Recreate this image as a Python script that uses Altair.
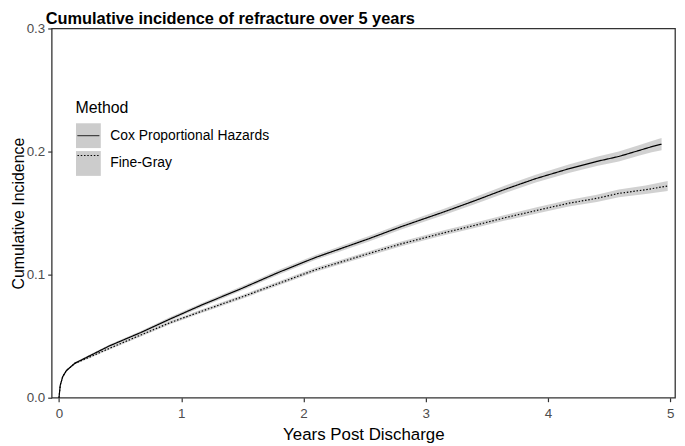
import altair as alt
import pandas as pd

# ---- data ----
methods = ["Cox Proportional Hazards", "Fine-Gray"]

cox_x = [0.0, 0.01, 0.03, 0.06, 0.13, 0.25, 0.41, 0.67, 0.91, 1.16, 1.5, 1.8, 2.1,
         2.53, 2.8, 3.15, 3.4, 3.64, 3.9, 4.17, 4.4, 4.58, 4.75, 4.85, 4.93]
cox_y = [0.0, 0.010, 0.017, 0.022, 0.028, 0.034, 0.042, 0.053, 0.064, 0.075, 0.089, 0.102, 0.114,
         0.129, 0.139, 0.151, 0.160, 0.169, 0.178, 0.186, 0.192, 0.196, 0.201, 0.204, 0.206]
cox_hw = [0.0, 0.0004, 0.0006, 0.0008, 0.0009, 0.001, 0.0011, 0.0013, 0.0015, 0.0016, 0.0017, 0.0019, 0.002,
          0.0022, 0.0024, 0.0026, 0.0028, 0.003, 0.0032, 0.0035, 0.0037, 0.004, 0.0043, 0.0046, 0.005]

fg_x = [0.0, 0.01, 0.03, 0.06, 0.13, 0.25, 0.41, 0.67, 0.91, 1.16, 1.5, 1.8, 2.1,
        2.53, 2.8, 3.15, 3.4, 3.64, 3.9, 4.17, 4.4, 4.58, 4.8, 4.98]
fg_y = [0.0, 0.010, 0.017, 0.022, 0.028, 0.033, 0.040, 0.051, 0.061, 0.070, 0.082, 0.093, 0.104,
        0.117, 0.125, 0.134, 0.140, 0.146, 0.152, 0.158, 0.162, 0.166, 0.169, 0.172]
fg_hw = [0.0, 0.0004, 0.0006, 0.0008, 0.0009, 0.001, 0.0011, 0.0012, 0.0013, 0.0014, 0.0015, 0.0016, 0.0017,
         0.0018, 0.0019, 0.002, 0.0021, 0.0023, 0.0025, 0.0027, 0.003, 0.0032, 0.0035, 0.004]

x_ticks = [0, 1, 2, 3, 4, 5]
y_ticks = [0.0, 0.1, 0.2, 0.3]

rows = []
for m, xs, ys, hws in [(methods[0], cox_x, cox_y, cox_hw), (methods[1], fg_x, fg_y, fg_hw)]:
    for x, y, h in zip(xs, ys, hws):
        rows.append({"Method": m, "Band": m, "x": x, "y": y, "lo": y - h, "hi": y + h})
df = pd.DataFrame(rows)

FONT = "Liberation Sans"

xscale = alt.Scale(domain=[-0.06, 5.04], nice=False, zero=False)
yscale = alt.Scale(domain=[0, 0.3], nice=False)

xaxis = alt.Axis(values=x_ticks, format="d", title="Years Post Discharge", grid=False, domain=False,
                 tickColor="#333333", tickWidth=1.2, tickSize=4, labelFontSize=13.5, labelColor="#4d4d4d",
                 labelPadding=5, titleFontSize=17, titleFontWeight="normal", titleColor="#000000",
                 titlePadding=7, labelFont=FONT, titleFont=FONT)
yaxis = alt.Axis(values=y_ticks, format=".1f", title="Cumulative Incidence", grid=False, domain=False,
                 tickColor="#333333", tickWidth=1.2, tickSize=4, labelFontSize=13.5, labelColor="#4d4d4d",
                 labelPadding=3, titleFontSize=16, titleFontWeight="normal", titleColor="#000000",
                 titlePadding=0, labelFont=FONT, titleFont=FONT)

legend_common = dict(title="Method", orient="none", legendX=24, legendY=72, symbolSize=625,
                     labelFontSize=14, labelFont=FONT, labelLimit=300, titleFontSize=16, titleFont=FONT,
                     titleFontWeight="normal", titlePadding=7, labelOffset=9, rowPadding=-5.5, padding=0)

band = alt.Chart(df).mark_area(opacity=0.9, interpolate="linear").encode(
    x=alt.X("x:Q", scale=xscale, axis=xaxis),
    y=alt.Y("lo:Q", scale=yscale, axis=yaxis),
    y2="hi:Q",
    detail="Method:N",
    fill=alt.Fill("Band:N", scale=alt.Scale(range=["#cccccc", "#cccccc"]),
                  legend=alt.Legend(symbolType="square", symbolStrokeWidth=1,
                                    symbolStrokeColor="transparent", symbolFillColor="#c9c9c9",
                                    symbolOpacity=1, labelColor="#000000", titleColor="#000000",
                                    zindex=1, **legend_common)),
)

line = alt.Chart(df).mark_line(color="black", strokeWidth=1.2).encode(
    x=alt.X("x:Q", scale=xscale),
    y=alt.Y("y:Q", scale=yscale),
    strokeDash=alt.StrokeDash("Method:N", scale=alt.Scale(domain=methods, range=[[1, 0], [1.5, 1.8]]),
                              legend=alt.Legend(symbolType="M-0.88,0H0.88", symbolStrokeWidth=1,
                                                symbolStrokeColor="black", symbolFillColor="transparent",
                                                labelExpr="''", labelOpacity=0, titleOpacity=0, zindex=2,
                                                **legend_common)),
)

chart = alt.layer(band, line).properties(
    width=628, height=372,
    autosize=alt.AutoSizeParams(type="none"),
    padding={"left": 44, "top": 19, "right": 2, "bottom": 45},
    title=alt.TitleParams("Cumulative incidence of refracture over 5 years", anchor="start", frame="group",
                          dx=-6, offset=-6, fontSize=16.5, fontWeight="bold", font=FONT, color="#000000"),
).configure(font=FONT).configure_view(stroke="#333333", strokeWidth=1.3)

chart.save("out.html", embed_options={"renderer": "svg", "actions": False})
